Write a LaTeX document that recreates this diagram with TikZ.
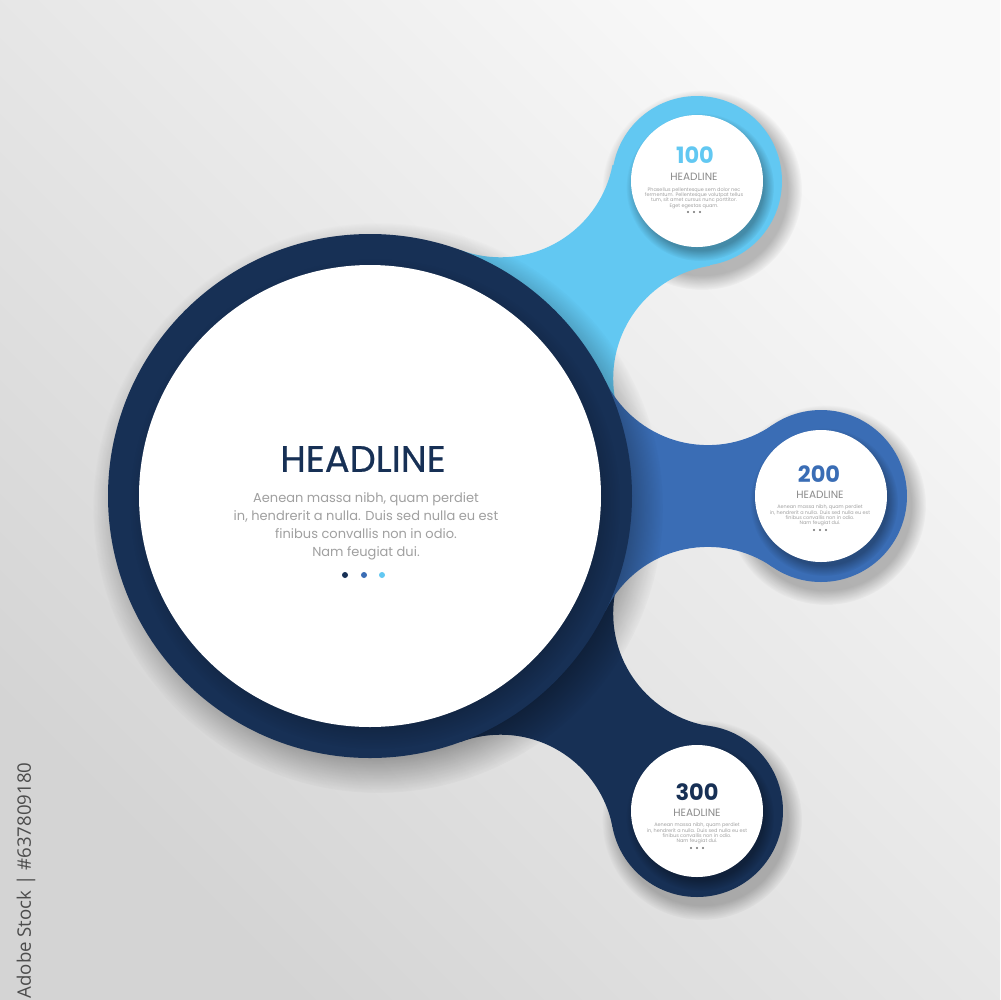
\documentclass[tikz,border=0pt]{standalone}
\usepackage{fontspec}
\setmainfont{Poppins}
\newfontfamily\wmfont{Open Sans}
\usetikzlibrary{fadings,calc}
\definecolor{navy}{HTML}{173055}
\definecolor{midblue}{HTML}{3A6DB5}
\definecolor{skyblue}{HTML}{62C8F2}
\definecolor{txtgray}{HTML}{A0A0A0}
\definecolor{hdgray}{HTML}{8A8A8A}
\definecolor{dotgray}{HTML}{707070}
\definecolor{bgdark}{HTML}{D4D4D4}
\definecolor{bglight}{HTML}{F9F9F9}
\newcommand\linkshape[4]{%
  \begin{scope}[even odd rule]
    \clip (-50,-50) rectangle (1050,1050)
      (#3) circle[radius=114] (#4) circle[radius=114];
    \fill[#1] (C0) -- (#3) -- (#2) -- (#4) -- cycle;
  \end{scope}}
\begin{document}
\begin{tikzpicture}[x=0.1mm,y=-0.1mm,
  softshadow/.style={black, opacity=#1, path fading=circle with fuzzy edge 15 percent},
  softshadow/.default=0.3,
  bigtitle/.style={font=\fontsize{10.5}{12}\selectfont\addfontfeature{FakeBold=0.6}, text=navy},
  bodytext/.style={font=\fontsize{3.7}{5.1}\selectfont, text=txtgray, align=center},
  numtext/.style={font=\fontsize{6.4}{7}\selectfont\bfseries},
  smallhead/.style={font=\fontsize{3}{3.5}\selectfont, text=hdgray},
  tinytext/.style={font=\fontsize{1.4}{1.5}\selectfont, text=txtgray, align=center},
  bigdot/.style={circle, fill=#1, inner sep=0pt, minimum size=0.6mm},
  smalldot/.style={circle, fill=dotgray, inner sep=0pt, minimum size=0.22mm}]
\useasboundingbox (0,0) rectangle (1000,1000);
\shade[bottom color=bgdark, top color=bglight, shading angle=-45] (0,0) rectangle (1000,1000);

% centres
\coordinate (C0) at (370,496);
\coordinate (C1) at (697,181);
\coordinate (C2) at (821,496);
\coordinate (C3) at (697,811);
% cutter circle centres
\coordinate (K1a) at (500.6,143.3);
\coordinate (K1b) at (727.2,378.5);
\coordinate (K2a) at (707.9,331.1);
\coordinate (K2b) at (707.9,660.9);
\coordinate (K3a) at (727.2,613.5);
\coordinate (K3b) at (500.6,848.7);

% small circle shadows on background
\fill[softshadow=0.25] ($(C1)+(5,9)$) circle[radius=100];
\fill[softshadow=0.25] ($(C2)+(5,9)$) circle[radius=100];
\fill[softshadow=0.25] ($(C3)+(5,9)$) circle[radius=100];

% connectors
\linkshape{navy}{C3}{K3a}{K3b}
\linkshape{skyblue}{C1}{K1a}{K1b}
\linkshape{midblue}{C2}{K2a}{K2b}

% main circle
\fill[softshadow=0.35] ($(C0)+(8,12)$) circle[radius=285];
\fill[navy] (C0) circle[radius=262];
\fill[softshadow=0.3] ($(C0)+(5,8)$) circle[radius=245];
\fill[white] (C0) circle[radius=231];

% small circles
\fill[skyblue] (C1) circle[radius=85];
\fill[softshadow=0.3] ($(C1)+(3,6)$) circle[radius=74];
\fill[white] (C1) circle[radius=66];

\fill[midblue] (C2) circle[radius=86];
\fill[softshadow=0.3] ($(C2)+(3,6)$) circle[radius=74];
\fill[white] (C2) circle[radius=66];

\fill[navy] (C3) circle[radius=86];
\fill[softshadow=0.3] ($(C3)+(3,6)$) circle[radius=74];
\fill[white] (C3) circle[radius=66];

% main text
\node[bigtitle] (mh) at (363,459) {HEADLINE};
\node[bodytext] (mb) at (366,526) {Aenean massa nibh, quam perdiet\\in, hendrerit a nulla. Duis sed nulla eu est\\finibus convallis non in odio.\\Nam feugiat dui.};
\node[bigdot=navy] (md1) at (345,575) {};
\node[bigdot=midblue] (md2) at (364,575) {};
\node[bigdot=skyblue] (md3) at (382,575) {};

% circle 100
\node[numtext, text=skyblue] (n1) at (695,155) {100};
\node[smallhead] (h1) at (694,177) {HEADLINE};
\node[tinytext] (t1) at (694,198) {Phasellus pellentesque sem dolor nec\\fermentum. Pellentesque volutpat tellus\\tum, sit amet cursus nunc porttitor.\\Eget egestas quam.};
\node[smalldot] (a1) at (688,212) {};
\node[smalldot] (a2) at (694,212) {};
\node[smalldot] (a3) at (700,212) {};

% circle 200
\node[numtext, text=midblue] (n2) at (819,474) {200};
\node[smallhead] (h2) at (820,495) {HEADLINE};
\node[tinytext] (t2) at (820,515.5) {Aenean massa nibh, quam perdiet\\in, hendrerit a nulla. Duis sed nulla eu est\\finibus convallis non in odio.\\Nam feugiat dui.};
\node[smalldot] (b1) at (814,530) {};
\node[smalldot] (b2) at (820,530) {};
\node[smalldot] (b3) at (826,530) {};

% circle 300
\node[numtext, text=navy] (n3) at (697,792) {300};
\node[smallhead] (h3) at (697,813) {HEADLINE};
\node[tinytext] (t3) at (697,833.5) {Aenean massa nibh, quam perdiet\\in, hendrerit a nulla. Duis sed nulla eu est\\finibus convallis non in odio.\\Nam feugiat dui.};
\node[smalldot] (c1) at (691,848) {};
\node[smalldot] (c2) at (697,848) {};
\node[smalldot] (c3) at (703,848) {};

% stock id
\node[rotate=90, anchor=east, inner sep=0pt, text=black!70, font=\wmfont\fontsize{5.3}{6}\selectfont] (wm) at (26,762) {Adobe Stock | \#637809180};
\end{tikzpicture}
\end{document}
